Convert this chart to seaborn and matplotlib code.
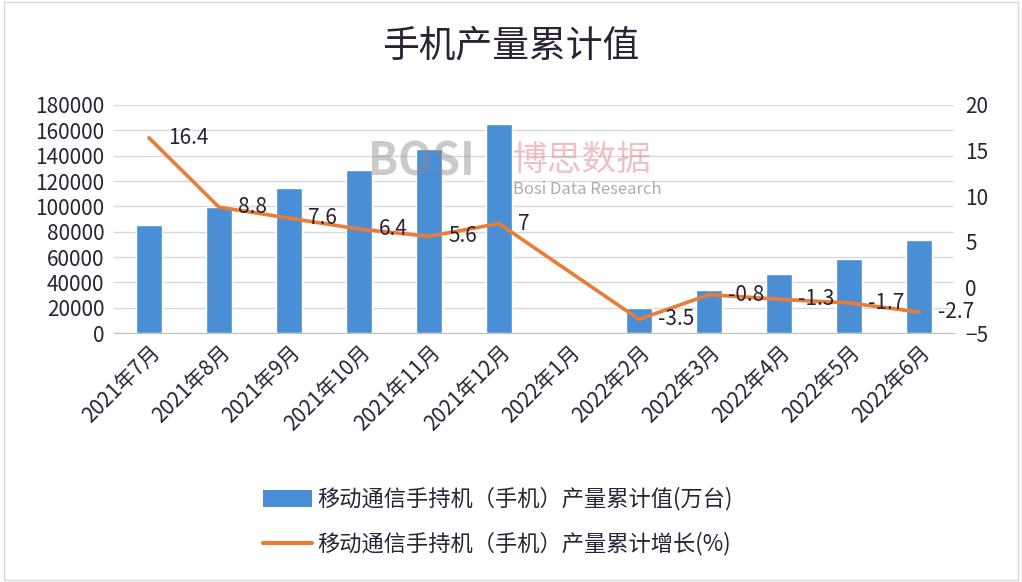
import matplotlib
matplotlib.use('Agg')
import matplotlib.pyplot as plt
import numpy as np
import pandas as pd
import seaborn as sns
from matplotlib.lines import Line2D
from matplotlib.patches import Patch, Rectangle

# data
months = ['2021年7月', '2021年8月', '2021年9月', '2021年10月', '2021年11月', '2021年12月',
          '2022年1月', '2022年2月', '2022年3月', '2022年4月', '2022年5月', '2022年6月']
output_total = [85500, 99700, 114200, 128400, 145000, 165000,
                np.nan, 19500, 33900, 46600, 58400, 73400]
growth_pct = [16.4, 8.8, 7.6, 6.4, 5.6, 7, np.nan, -3.5, -0.8, -1.3, -1.7, -2.7]
growth_labels = ['16.4', '8.8', '7.6', '6.4', '5.6', '7', '', '-3.5', '-0.8', '-1.3', '-1.7', '-2.7']

bar_name = '移动通信手持机（手机）产量累计值(万台)'
line_name = '移动通信手持机（手机）产量累计增长(%)'

BLUE = '#4a8fd6'
ORANGE = '#e97d35'
TEXT = '#2b2233'
GRID = '#d9d9d9'

sns.set_style('white')
plt.rcParams['font.family'] = ['Noto Sans CJK SC', 'DejaVu Sans']

df = pd.DataFrame({'month': months, 'total': output_total,
                   'growth': growth_pct, 'label': growth_labels})
df['pos'] = np.arange(len(df))

fig = plt.figure(figsize=(10.22, 5.82), dpi=100)
ax = fig.add_axes([0.1115, 0.4278, 0.822, 0.3918])

sns.barplot(data=df, x='month', y='total', order=months, color=BLUE,
            width=0.38, saturation=1, ax=ax, zorder=2)
ax.set_ylim(0, 180000)
ax.set_yticks(np.arange(0, 180001, 20000))
ax.set_xlim(-0.5, len(months) - 0.5)
ax.yaxis.grid(True, color=GRID, linewidth=1)
ax.set_axisbelow(True)
ax.set_xlabel('')
ax.set_ylabel('')
for s in ['top', 'left', 'right']:
    ax.spines[s].set_visible(False)
ax.spines['bottom'].set_color('#bfbfbf')
ax.tick_params(axis='y', length=0, labelsize=15, labelcolor=TEXT, pad=7)
ax.tick_params(axis='x', which='major', length=0, labelsize=15, labelcolor=TEXT, pad=6)
ax.set_xticks(np.arange(-0.5, len(months), 1), minor=True)
ax.tick_params(axis='x', which='minor', length=5, color='#bfbfbf')
ax.set_xticklabels(months, rotation=45, ha='right', va='top', rotation_mode='anchor')

ax2 = ax.twinx()
line_df = df.dropna(subset=['growth'])
sns.lineplot(data=line_df, x='pos', y='growth', sort=False, color=ORANGE,
             linewidth=2.6, ax=ax2, zorder=3)
ax2.set_ylim(-5, 20)
ax2.set_yticks(np.arange(-5, 21, 5))
ax2.set_ylabel('')
ax2.set_xlabel('')
for s in ['top', 'left', 'right', 'bottom']:
    ax2.spines[s].set_visible(False)
ax2.tick_params(axis='y', length=0, labelsize=15, labelcolor=TEXT, pad=8)
ax2.set_xlim(-0.5, len(months) - 0.5)

for _, r in line_df.iterrows():
    ax2.annotate(r['label'], (r['pos'], r['growth']), xytext=(14, 0),
                 textcoords='offset points', ha='left', va='center',
                 fontsize=15, color=TEXT, zorder=4)

fig.text(0.5, 0.92, '手机产量累计值', ha='center', va='center', fontsize=26.5, color=TEXT)

# watermark
fig.text(0.36, 0.72, 'BOSI', fontsize=32, fontweight='bold', color='#8a8a8a', alpha=0.45,
         ha='left', va='center')
fig.text(0.502, 0.725, '博思数据', fontsize=25, color='#e38d9c', alpha=0.55,
         ha='left', va='center')
fig.text(0.502, 0.674, 'Bosi Data Research', fontsize=12, color='#8a8a8a', alpha=0.7,
         ha='left', va='center')

handles = [Patch(facecolor=BLUE, edgecolor='none'),
           Line2D([0], [0], color=ORANGE, linewidth=3)]
fig.legend(handles, [bar_name, line_name], loc='center', bbox_to_anchor=(0.487, 0.104),
           ncol=1, frameon=False, fontsize=16, labelcolor=TEXT, handlelength=2.2,
           handleheight=0.8, handletextpad=0.25, labelspacing=0.95)

fig.patches.append(Rectangle((0.004, 0.004), 0.992, 0.992, transform=fig.transFigure,
                             fill=False, edgecolor='#d9d9d9', linewidth=1))

fig.savefig('out.png', dpi=100)
